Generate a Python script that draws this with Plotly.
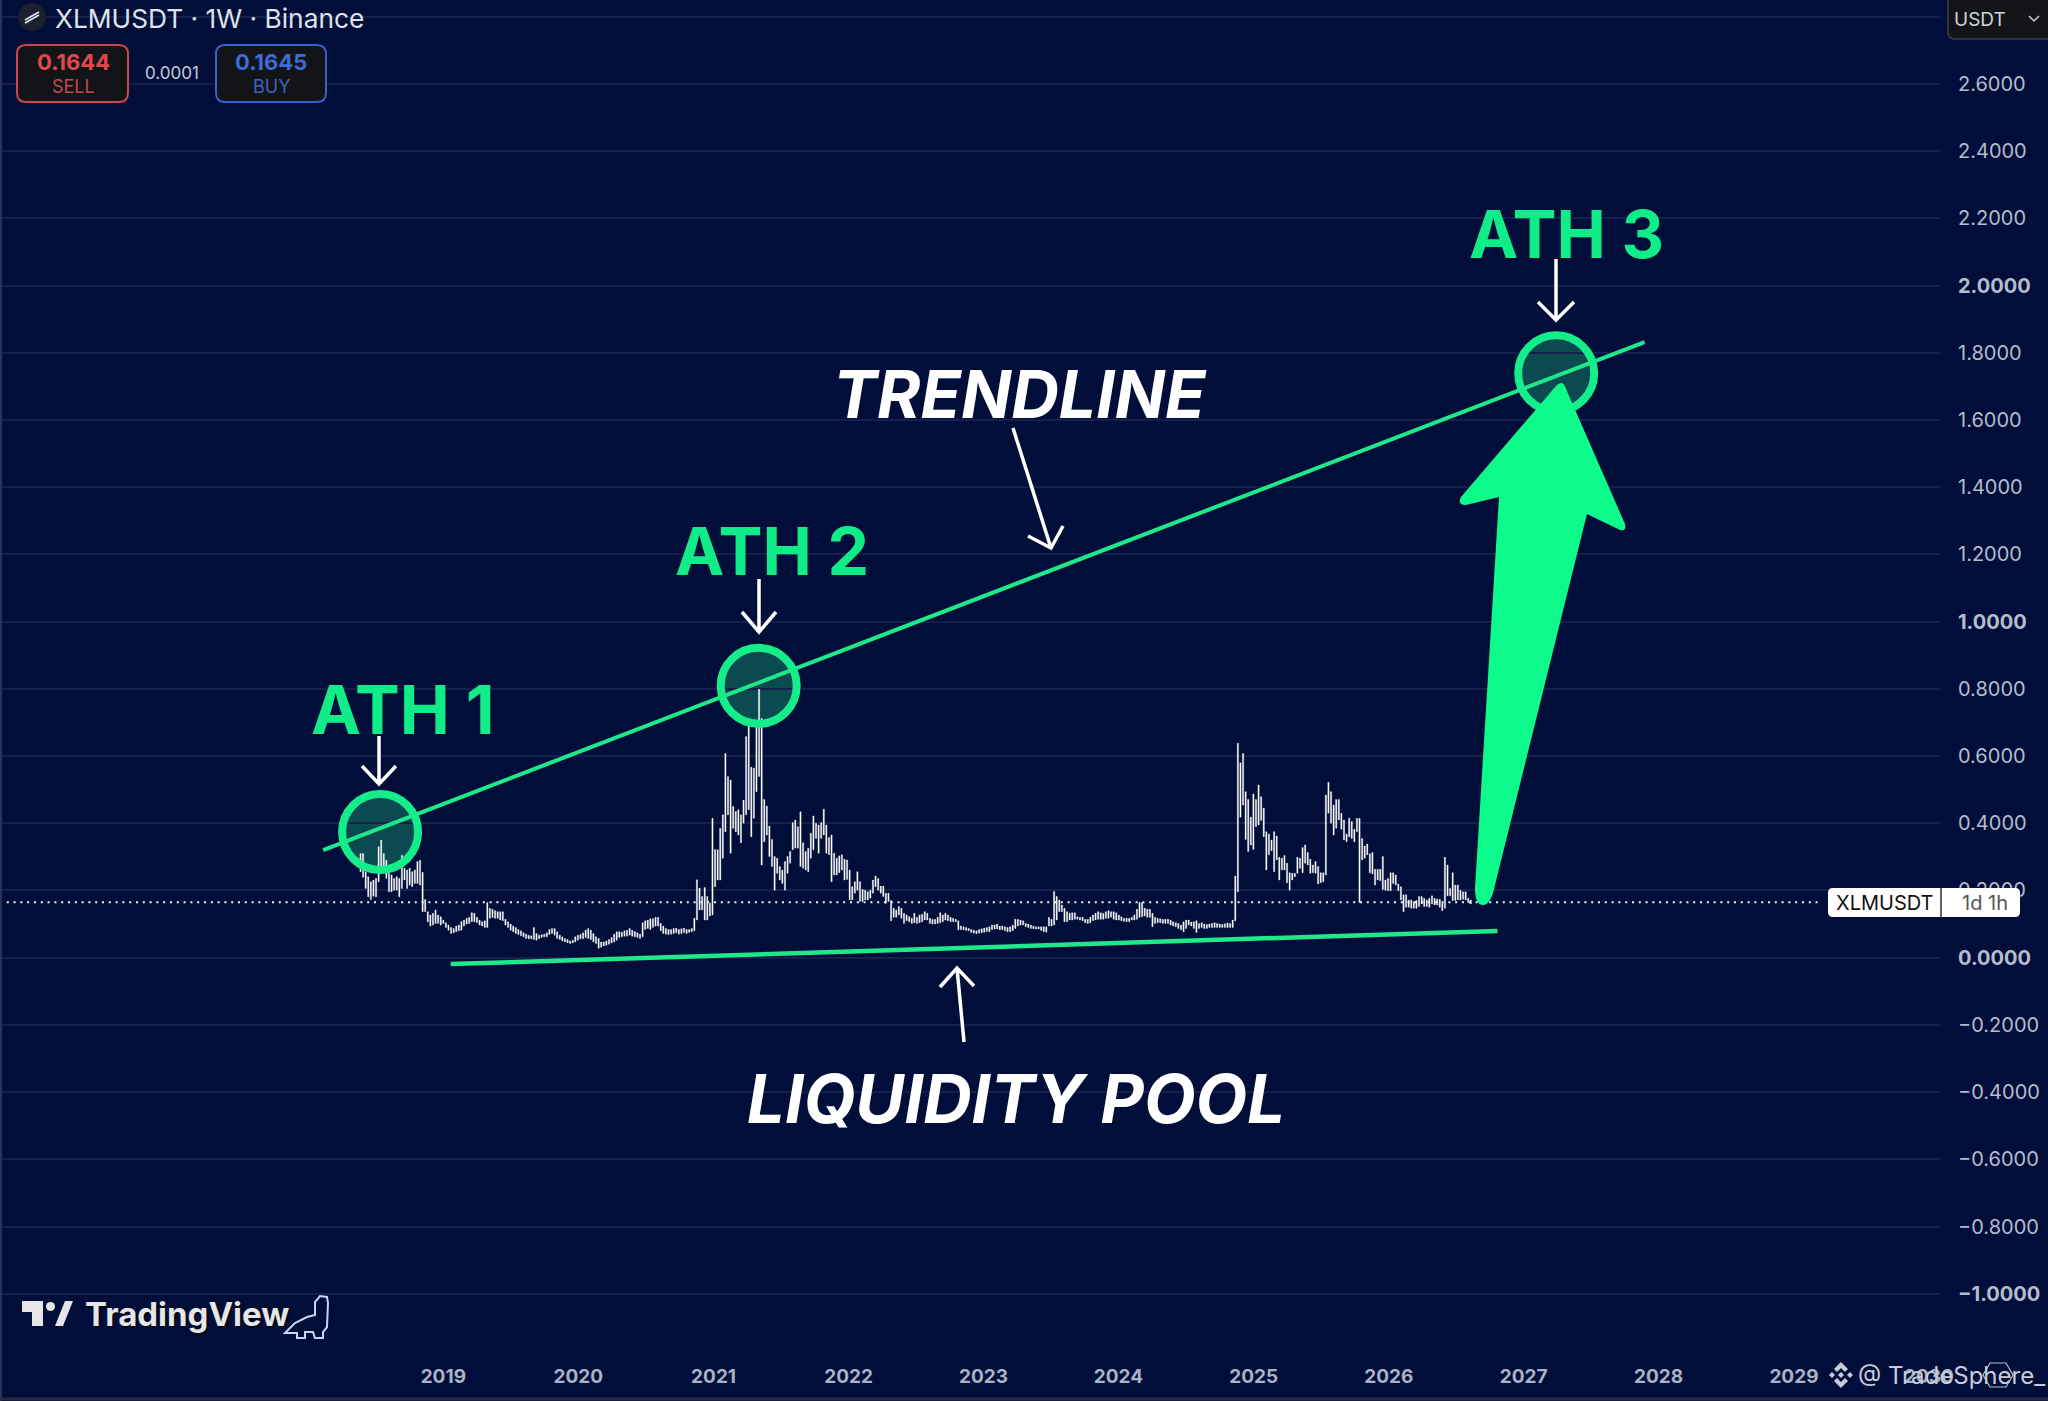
import pandas as pd
import plotly.graph_objects as go

W, H = 2048, 1401
PLOT_W, PLOT_H = 1940, 1355
BG = '#010e3a'
GRID = '#151f4a'
GREEN = '#1fe88a'
FONT = 'Inter'

# weekly candle ranges, one pair per week
week_high = [
    .31, .31, .256, .241, .226, .231, .236, .33, .35, .31, .29, .251, .246, .236, .241, .236, .305, .266, .261, .266,
    .256, .261, .286, .29, .254, .173, .137, .127, .132, .142, .127, .122, .112, .104, .097, .09, .087, .094, .097, .107,
    .112, .117, .12, .134, .132, .12, .112, .107, .11, .164, .147, .144, .14, .137, .137, .137, .114, .107, .1, .094,
    .09, .084, .08, .074, .07, .067, .065, .09, .072, .067, .068, .07, .074, .084, .087, .087, .077, .067, .062, .057,
    .054, .05, .052, .062, .067, .07, .074, .082, .087, .082, .072, .062, .057, .047, .047, .05, .054, .06, .07, .077,
    .077, .076, .08, .082, .087, .082, .078, .074, .07, .104, .11, .112, .116, .116, .12, .12, .102, .094, .087, .084,
    .084, .087, .088, .084, .086, .088, .084, .084, .087, .117,
    .232, .207, .182, .209, .182, .162, .415, .322, .321, .385, .425, .608, .539, .529, .45, .435, .44, .425, .469, .658,
    .69, .567, .564, .688, .799, .712, .471, .451, .392, .352, .301, .296, .271, .261, .286, .301, .316, .402, .41, .39,
    .434, .342, .316, .326, .37, .422, .4, .395, .402, .442, .395, .358, .365, .311, .296, .303, .306, .293, .291, .261,
    .211, .226, .256, .226, .203, .201, .196, .201, .231, .243, .236, .213, .213, .192, .192, .17, .147, .142, .152, .147,
    .132, .127, .122, .117,
    .132, .12, .127, .129, .137, .132, .117, .114, .114, .12, .134, .127, .132, .127, .12, .117, .114, .11, .094, .092,
    .09, .087, .084, .082, .08, .084, .086, .088, .09, .092, .097, .097, .1, .094, .094, .092, .09, .092, .097, .114,
    .114, .112, .11, .102, .1, .097, .094, .092, .092, .092, .092, .092, .12, .114, .197, .182, .172, .157, .147, .137,
    .132, .134, .134, .122, .12, .12, .114, .114, .12, .127, .132, .137, .134, .132, .137, .14, .137, .137, .134, .127,
    .122, .117, .117, .117, .12, .127, .144, .164, .164, .147, .144, .144, .132, .12, .117, .116, .114, .114, .114, .112,
    .107, .104, .102, .097, .107, .112, .112, .106, .107, .11, .102, .104, .1, .099, .1, .102, .104, .102, .1, .099,
    .101, .103, .102, .112,
    .243, .638, .58, .608, .494, .471, .418, .487, .471, .514, .479, .445, .375, .368, .35, .375, .362, .299, .296, .304,
    .281, .253, .251, .251, .299, .296, .328, .335, .313, .293, .276, .286, .271, .253, .253, .484, .522, .494, .454, .471,
    .471, .43, .41, .368, .415, .405, .382, .415, .415, .355, .332, .338, .309, .313, .263, .263, .263, .301, .231, .236,
    .253, .253, .246, .219, .211, .187, .187, .172, .172, .167, .17, .182, .182, .177, .172, .177, .184, .177, .174, .174,
    .162, .299, .276, .206, .253, .216, .216, .201, .196, .196, .177, .172,
]
week_low = [
    .256, .239, .206, .181, .173, .183, .181, .226, .251, .251, .236, .196, .196, .201, .201, .181, .206, .231, .206, .216,
    .211, .221, .221, .216, .137, .137, .107, .094, .097, .102, .102, .097, .102, .09, .082, .072, .074, .077, .08, .082,
    .094, .1, .102, .107, .107, .104, .097, .094, .09, .09, .117, .12, .117, .117, .112, .11, .097, .09, .082, .077,
    .072, .069, .065, .062, .057, .056, .056, .054, .052, .056, .06, .062, .062, .069, .072, .067, .057, .054, .05, .047,
    .044, .042, .044, .047, .052, .056, .056, .06, .057, .054, .047, .042, .028, .031, .035, .037, .04, .044, .047, .052,
    .06, .062, .064, .064, .067, .064, .062, .06, .057, .062, .084, .087, .084, .09, .094, .094, .08, .072, .07, .069,
    .07, .072, .074, .07, .072, .074, .072, .075, .077, .08,
    .112, .142, .142, .112, .112, .124, .127, .211, .231, .231, .296, .375, .425, .311, .385, .375, .365, .342, .4, .425,
    .44, .36, .415, .494, .539, .276, .345, .365, .301, .271, .201, .251, .231, .221, .201, .251, .281, .321, .326, .326,
    .271, .266, .261, .256, .296, .321, .355, .311, .355, .365, .311, .306, .226, .246, .246, .253, .261, .231, .233, .172,
    .172, .192, .201, .167, .167, .172, .172, .177, .192, .211, .201, .192, .182, .162, .167, .11, .12, .12, .127, .117,
    .102, .11, .107, .102,
    .104, .102, .104, .107, .112, .112, .102, .1, .1, .102, .104, .107, .112, .11, .107, .107, .107, .083, .083, .083,
    .081, .08, .075, .073, .071, .073, .074, .076, .078, .077, .083, .085, .085, .083, .083, .08, .077, .077, .08, .087,
    .094, .097, .097, .092, .09, .087, .086, .085, .085, .081, .077, .076, .094, .094, .097, .112, .137, .137, .107, .107,
    .112, .112, .114, .114, .112, .11, .104, .102, .104, .11, .112, .114, .114, .114, .117, .117, .12, .114, .112, .112,
    .11, .108, .107, .107, .112, .112, .114, .12, .122, .124, .12, .12, .092, .102, .104, .104, .102, .102, .102, .097,
    .094, .092, .087, .083, .077, .087, .097, .094, .087, .075, .087, .09, .087, .087, .09, .09, .09, .09, .09, .09,
    .09, .09, .09, .09,
    .11, .196, .418, .454, .352, .316, .335, .322, .39, .395, .408, .36, .261, .306, .318, .256, .291, .231, .261, .261,
    .223, .201, .231, .241, .251, .266, .253, .281, .276, .251, .253, .251, .219, .223, .226, .246, .43, .4, .365, .385,
    .41, .382, .35, .345, .36, .355, .345, .375, .164, .291, .296, .306, .253, .249, .216, .231, .229, .203, .201, .199,
    .199, .221, .216, .199, .172, .137, .15, .15, .147, .147, .147, .152, .16, .152, .152, .15, .16, .157, .157, .15,
    .14, .147, .184, .184, .17, .17, .172, .172, .174, .172, .164, .16,
]
week_start = '2018-05-22'

last_price = .165
year_labels = ['2019', '2020', '2021', '2022', '2023', '2024', '2025', '2026', '2027', '2028', '2029', '2030']
price_ticks = [2.8, 2.6, 2.4, 2.2, 2.0, 1.8, 1.6, 1.4, 1.2, 1.0, .8, .6, .4, .2, 0, -.2, -.4, -.6, -.8, -1.0]
bold_ticks = [2.0, 1.0, 0, -1.0]

trend_dates = ['2018-02-10', '2027-11-24']
trend_prices = [.32, 1.832]
pool_dates = ['2019-01-21', '2026-10-22']
pool_prices = [-.019, .0795]
ath_dates = ['2018-07-14', '2021-05-03', '2027-03-30']
ath_prices = [.374, .809, 1.739]


def px(x):
    return x / PLOT_W


def py(y):
    return 1 - y / PLOT_H


def path(*strokes, close=False):
    out = []
    for pts in strokes:
        out.append('M ' + ' L '.join(f'{px(x):.5f} {py(y):.5f}' for x, y in pts) + (' Z' if close else ''))
    return ' '.join(out)


def shape(d, line=None, width=0, fill=None):
    return dict(type='path', path=d, xref='paper', yref='paper', layer='above', fillcolor=fill,
                line=dict(color=line or 'rgba(0,0,0,0)', width=width))


def box(x0, y0, x1, y1, fill, line=None, width=0, r=8):
    d = (f'M {px(x0 + r):.5f} {py(y0):.5f} L {px(x1 - r):.5f} {py(y0):.5f} Q {px(x1):.5f} {py(y0):.5f} {px(x1):.5f} {py(y0 + r):.5f} '
         f'L {px(x1):.5f} {py(y1 - r):.5f} Q {px(x1):.5f} {py(y1):.5f} {px(x1 - r):.5f} {py(y1):.5f} '
         f'L {px(x0 + r):.5f} {py(y1):.5f} Q {px(x0):.5f} {py(y1):.5f} {px(x0):.5f} {py(y1 - r):.5f} '
         f'L {px(x0):.5f} {py(y0 + r):.5f} Q {px(x0):.5f} {py(y0):.5f} {px(x0 + r):.5f} {py(y0):.5f} Z')
    return shape(d, line, width, fill)


def label(x, y, text, size, color, anchor='center', **font):
    return dict(x=px(x), y=py(y), xref='paper', yref='paper', text=text, showarrow=False, xanchor=anchor, yanchor='middle',
                font=dict(size=size, color=color, family=FONT, **font))


def arrow(start, tip, wing1, wing2):
    return shape(path([start, tip], [wing1, tip, wing2]), 'white', 3.5)


weeks = pd.date_range(week_start, periods=len(week_high), freq='7D')

fig = go.Figure()
fig.add_trace(go.Candlestick(x=weeks, open=week_low, high=week_high, low=week_low, close=week_high, whiskerwidth=0,
                             increasing=dict(line=dict(color='#ffffff', width=.3), fillcolor='#ffffff'),
                             decreasing=dict(line=dict(color='#ffffff', width=.3), fillcolor='#ffffff')))
fig.add_trace(go.Scatter(x=trend_dates, y=trend_prices, mode='lines', hoverinfo='skip', line=dict(color=GREEN, width=4)))
fig.add_trace(go.Scatter(x=pool_dates, y=pool_prices, mode='lines', hoverinfo='skip', line=dict(color=GREEN, width=4.5)))
fig.add_trace(go.Scatter(x=ath_dates, y=ath_prices, mode='markers', hoverinfo='skip',
                         marker=dict(size=76, color='rgba(0,0,0,0)', line=dict(width=8, color='#15ec8a'))))

tick_text = [f'<b>{v:.4f}</b>'.replace('-', '−') if v in bold_ticks else f'{v:.4f}'.replace('-', '−') for v in price_ticks]

# circle fill sits under the candles, the ring is the marker trace on top
circle_fills = [dict(type='circle', xref='x', yref='y', xsizemode='pixel', ysizemode='pixel', xanchor=d, yanchor=p,
                     x0=-40, x1=40, y0=-40, y1=40, layer='below', fillcolor='#0b4a50', line=dict(width=0))
                for d, p in zip(ath_dates, ath_prices)]

shapes = circle_fills + [
    dict(type='line', xref='paper', yref='y', x0=0, x1=px(1822), y0=last_price, y1=last_price, layer='below',
         line=dict(color='#f4f4f4', width=2, dash='2px,4.8px')),
    # big arrow up to ATH 3
    shape(f'M {px(1561):.5f} {py(383):.5f} Q {px(1564):.5f} {py(383):.5f} {px(1566):.5f} {py(389):.5f} '
          f'L {px(1625):.5f} {py(524):.5f} Q {px(1627):.5f} {py(533):.5f} {px(1618):.5f} {py(529):.5f} '
          f'L {px(1587):.5f} {py(514):.5f} L {px(1495):.5f} {py(885):.5f} Q {px(1491):.5f} {py(905):.5f} {px(1483):.5f} {py(905):.5f} '
          f'Q {px(1475):.5f} {py(905):.5f} {px(1475):.5f} {py(888):.5f} L {px(1499):.5f} {py(497):.5f} '
          f'L {px(1466):.5f} {py(505):.5f} Q {px(1457):.5f} {py(505):.5f} {px(1461):.5f} {py(497):.5f} '
          f'L {px(1556):.5f} {py(386):.5f} Q {px(1559):.5f} {py(383):.5f} {px(1561):.5f} {py(383):.5f} Z', fill='#0dfb8a'),
    arrow((379, 736), (379, 784), (362, 766), (396, 766)),
    arrow((759, 579), (759, 632), (742, 612), (776, 612)),
    arrow((1556, 259), (1556, 320), (1538, 302), (1574, 302)),
    arrow((1013, 428), (1051, 548), (1028, 536), (1063, 526)),
    arrow((964, 1042), (957, 968), (940, 987), (974, 986)),
    # last price pill
    box(1828, 888, 2020, 917, 'white', r=5),
    shape(path([(1941, 888), (1941, 917)]), '#333333', 1.5),
    # order buttons
    box(17, 45, 128, 102, '#121418', '#c84a50', 2, r=9),
    box(216, 45, 326, 102, '#121418', '#3a5fd0', 2, r=9),
    # usdt selector
    box(1948, -6, 2060, 39, '#121418', '#3a3f4a', 1.5, r=7),
    shape(path([(2029, 16), (2034, 21), (2039, 16)]), '#c8ccd8', 1.5),
    # symbol icon
    dict(type='circle', xref='paper', yref='paper', layer='above', x0=px(18), x1=px(46), y0=py(3), y1=py(31),
         fillcolor='#1b2030', line=dict(width=0)),
    shape(path([(25, 20), (39, 12)], [(25, 23), (39, 15)]), '#dfe3ec', 1.8),
    # tradingview logo
    shape(path([(22, 1301), (43, 1301), (43, 1326), (32, 1326), (32, 1312), (22, 1312)], close=True), fill='#e6e6e6'),
    shape(path([(55, 1326), (65, 1301), (73, 1301), (63, 1326)], close=True), fill='#e6e6e6'),
    dict(type='circle', xref='paper', yref='paper', layer='above', x0=px(46), x1=px(55), y0=py(1302), y1=py(1311),
         fillcolor='#e6e6e6', line=dict(width=0)),
    shape(path([(285, 1333), (295, 1323), (307, 1317), (315, 1315), (315, 1302), (320, 1296), (327, 1297), (328, 1303),
                (327, 1327), (323, 1332), (323, 1338), (315, 1338), (313, 1332), (305, 1332), (305, 1338), (297, 1338),
                (297, 1333)], close=True), '#c8d4f0', 2),
    # binance mark
    shape(path([(1841, 1362), (1848, 1369), (1845, 1372), (1841, 1368), (1837, 1372), (1834, 1369)], close=True), fill='#c8ccd8'),
    shape(path([(1841, 1388), (1848, 1381), (1845, 1378), (1841, 1382), (1837, 1378), (1834, 1381)], close=True), fill='#c8ccd8'),
    shape(path([(1841, 1372), (1844, 1375), (1841, 1378), (1838, 1375)], close=True), fill='#c8ccd8'),
    shape(path([(1832, 1372), (1835, 1375), (1832, 1378), (1829, 1375)], close=True), fill='#c8ccd8'),
    shape(path([(1850, 1372), (1853, 1375), (1850, 1378), (1847, 1375)], close=True), fill='#c8ccd8'),
    # settings hexagon
    shape(path([(1990, 1363), (2006, 1363), (2013, 1375), (2006, 1387), (1990, 1387), (1983, 1375)], close=True), '#b8bdcc', 1.2),
    # frame
    shape(path([(1, 0), (1, 1401)]), '#2a3350', 2),
    shape(path([(0, 1399), (2048, 1399)]), '#262c40', 3),
]

annotations = [
    label(403, 709, '<b>ATH 1</b>', 67, '#0fec88'),
    label(772, 551, '<b>ATH 2</b>', 66, '#0fec88'),
    label(1566, 234, '<b>ATH 3</b>', 66, '#0fec88'),
    label(1020, 394, '<b><i>TRENDLINE</i></b>', 66, 'white'),
    label(1016, 1098, '<b><i>LIQUIDITY POOL</i></b>', 67, 'white'),
    label(53, 18, 'XLMUSDT · 1W · Binance', 26.3, '#dfe3ec', anchor='left'),
    label(73, 62, '<b>0.1644</b>', 22, '#e0484f'),
    label(73, 86, 'SELL', 18, '#bf4a4f'),
    label(172, 73, '0.0001', 17, '#c8ccd8'),
    label(271, 62, '<b>0.1645</b>', 22, '#3e6ad8'),
    label(271, 86, 'BUY', 18, '#3d63c0'),
    label(1952, 19, 'USDT', 19, '#d1d4dc', anchor='left'),
    label(1884, 903, 'XLMUSDT', 20, '#111111'),
    label(1985, 903, '1d 1h', 20, '#555555'),
    label(83, 1314, '<b>TradingView</b>', 33, '#e6e6e6', anchor='left', shadow='1px 1px 3px #000'),
    label(1856, 1375, '@ TradeSphere_', 24, '#c8ccd8', anchor='left'),
]

fig.update_layout(
    width=W, height=H, showlegend=False, paper_bgcolor=BG, plot_bgcolor=BG,
    margin=dict(l=0, r=W - PLOT_W, t=0, b=H - PLOT_H, pad=0),
    font=dict(family=FONT, color='#a9b2c6', size=20),
    shapes=shapes, annotations=annotations,
    xaxis=dict(type='date', range=['2015-09-20', '2030-01-31'], showgrid=False, zeroline=False, showline=False,
               rangeslider=dict(visible=False), tickmode='array', ticklen=0,
               tickvals=[f'{y}-01-01' for y in year_labels], ticktext=[f'<b>{y}</b>' for y in year_labels],
               tickfont=dict(size=19, color='#a9b2c6', family=FONT), ticklabelstandoff=8),
    yaxis=dict(side='right', range=[-1.1824, 2.85], showgrid=True, gridcolor=GRID, gridwidth=1.5, zeroline=False, showline=False,
               tickmode='array', tickvals=price_ticks, ticktext=tick_text, ticklen=0,
               tickfont=dict(size=20, color='#b4bccd', family=FONT), ticklabelstandoff=17),
)

# the page has a default body margin, drop it so the figure sits at 0,0
fig.write_html("out.html", config=dict(displayModeBar=False), post_script="document.body.style.margin='0';")
